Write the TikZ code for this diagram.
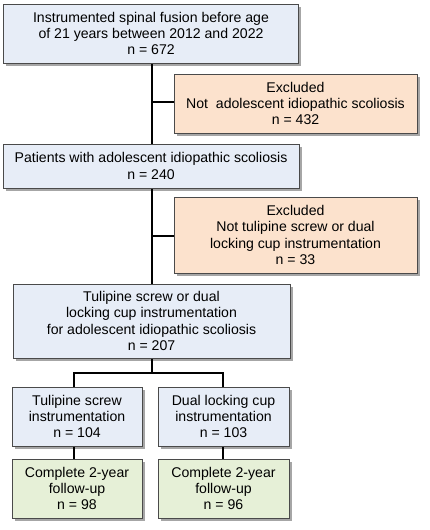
\documentclass[tikz,border=0pt]{standalone}
\usepackage{fontspec}
\setmainfont{Liberation Sans}
\usetikzlibrary{shadows}
\definecolor{boxblue}{HTML}{E7EDF7}
\definecolor{boxorange}{HTML}{FCE2CD}
\definecolor{boxgreen}{HTML}{E6F0D7}
\definecolor{boxline}{HTML}{4A4A4A}
\tikzset{
  flowbox/.style={draw=boxline, line width=0.9pt, align=center, inner sep=0pt,
    font=\fontsize{14.1}{16.4}\selectfont,
    drop shadow={shadow xshift=2.5pt, shadow yshift=-3pt, fill=black, opacity=0.35}},
  bluebox/.style={flowbox, fill=boxblue},
  orangebox/.style={flowbox, fill=boxorange},
  greenbox/.style={flowbox, fill=boxgreen},
  conn/.style={line width=2.6pt, black}
}
\begin{document}
\begin{tikzpicture}[x=1pt,y=-1pt]
\useasboundingbox (0,0) rectangle (429,530);
\fill[white] (0,0) rectangle (429,530);
% connectors first
\coordinate (t1) at (152,62);
\coordinate (t2) at (152,144);
\coordinate (t3) at (152,188);
\coordinate (t4) at (152,284);
\coordinate (s1) at (152,358);
\coordinate (s2) at (152,373);
\coordinate (s3) at (74,373);
\coordinate (s4) at (223,373);
\coordinate (a1) at (74,387);
\coordinate (a2) at (223,387);
\coordinate (c1) at (74,446);
\coordinate (c2) at (74,459);
\coordinate (d1) at (223,446);
\coordinate (d2) at (223,459);
\draw[conn] (t1) -- (t2);
\draw[conn] (152,102) -- (174,102);
\draw[conn] (t3) -- (t4);
\draw[conn] (152,236) -- (174,236);
\draw[conn] (s1) -- (s2);
\draw[conn,line cap=rect] (s3) -- (s4);
\draw[conn] (s3) -- (a1);
\draw[conn] (s4) -- (a2);
\draw[conn] (c1) -- (c2);
\draw[conn] (d1) -- (d2);
% boxes
\node[bluebox, minimum width=295pt, minimum height=59pt] (b1) at (151,33.5)
  {Instrumented spinal fusion before age\\of 21 years between 2012 and 2022\\n = 672};
\node[orangebox, minimum width=243pt, minimum height=59pt] (e1) at (295.5,103.5)
  {Excluded\\Not\ \ adolescent idiopathic scoliosis\\n = 432};
\node[bluebox, minimum width=296pt, minimum height=44pt] (b2) at (151,166)
  {Patients with adolescent idiopathic scoliosis\\n = 240};
\node[orangebox, minimum width=243pt, minimum height=76pt] (e2) at (295.5,235)
  {Excluded\\Not tulipine screw or dual\\locking cup instrumentation\\n = 33};
\node[bluebox, minimum width=277pt, minimum height=74pt] (b3) at (151.5,321)
  {Tulipine screw or dual\\locking cup instrumentation\\for adolescent idiopathic scoliosis\\n = 207};
\node[bluebox, minimum width=130pt, minimum height=59pt] (b4) at (77,416.5)
  {Tulipine screw\\instrumentation\\n = 104};
\node[bluebox, minimum width=131pt, minimum height=59pt] (b5) at (223.5,416.5)
  {Dual locking cup\\instrumentation\\n = 103};
\node[greenbox, minimum width=130pt, minimum height=59pt] (g1) at (77,488.5)
  {Complete 2-year\\follow-up\\n = 98};
\node[greenbox, minimum width=131pt, minimum height=59pt] (g2) at (223.5,488.5)
  {Complete 2-year\\follow-up\\n = 96};
\end{tikzpicture}
\end{document}
